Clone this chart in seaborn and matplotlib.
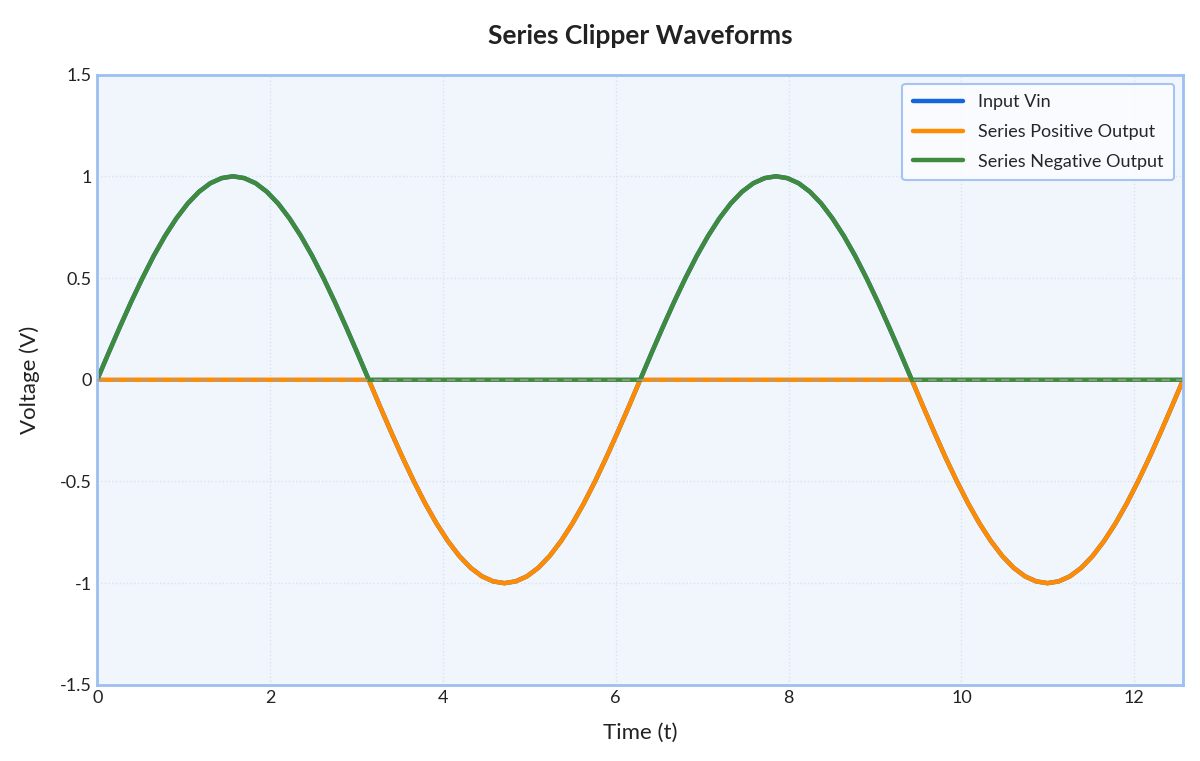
import seaborn as sns
import matplotlib.pyplot as plt
import numpy as np
import pandas as pd

# time axis (t), one sample every 7.5 degrees over two periods
time_t = [0.000, 0.131, 0.262, 0.393, 0.524, 0.654, 0.785, 0.916, 1.047, 1.178,
          1.309, 1.440, 1.571, 1.702, 1.833, 1.963, 2.094, 2.225, 2.356, 2.487,
          2.618, 2.749, 2.880, 3.011, 3.142, 3.272, 3.403, 3.534, 3.665, 3.796,
          3.927, 4.058, 4.189, 4.320, 4.451, 4.581, 4.712, 4.843, 4.974, 5.105,
          5.236, 5.367, 5.498, 5.629, 5.760, 5.890, 6.021, 6.152, 6.283,
          6.414, 6.545, 6.676, 6.807, 6.938, 7.069, 7.199, 7.330, 7.461, 7.592,
          7.723, 7.854, 7.985, 8.116, 8.247, 8.378, 8.508, 8.639, 8.770, 8.901,
          9.032, 9.163, 9.294, 9.425, 9.556, 9.687, 9.817, 9.948, 10.079, 10.210,
          10.341, 10.472, 10.603, 10.734, 10.865, 10.996, 11.126, 11.257, 11.388, 11.519,
          11.650, 11.781, 11.912, 12.043, 12.174, 12.305, 12.435, 12.566]

# half waves (amplitude 1 V)
half_up = [0, 0.131, 0.259, 0.383, 0.5, 0.609, 0.707, 0.793, 0.866, 0.924, 0.966, 0.991,
           1, 0.991, 0.966, 0.924, 0.866, 0.793, 0.707, 0.609, 0.5, 0.383, 0.259, 0.131]
half_down = [0, -0.131, -0.259, -0.383, -0.5, -0.609, -0.707, -0.793, -0.866, -0.924, -0.966, -0.991,
             -1, -0.991, -0.966, -0.924, -0.866, -0.793, -0.707, -0.609, -0.5, -0.383, -0.259, -0.131]
half_flat = [0] * 24

vin = half_up + half_down + half_up + half_down + [0]
pos_out = half_flat + half_down + half_flat + half_down + [0]
neg_out = half_up + half_flat + half_up + half_flat + [0]

series_names = ['Input Vin', 'Series Positive Output', 'Series Negative Output']
series_colors = ['#1565e0', '#ff8c00', '#408a3b']

y_ticks = [-1.5, -1, -0.5, 0, 0.5, 1, 1.5]
y_ticklabels = ['-1.5', '-1', '-0.5', '0', '0.5', '1', '1.5']
x_ticks = [0, 2, 4, 6, 8, 10, 12]

df = pd.concat([
    pd.DataFrame({'t': time_t, 'v': vin, 'series': series_names[0]}),
    pd.DataFrame({'t': time_t, 'v': pos_out, 'series': series_names[1]}),
    pd.DataFrame({'t': time_t, 'v': neg_out, 'series': series_names[2]}),
], ignore_index=True)

sns.set_style('white')
plt.rcParams['font.family'] = ['Lato', 'DejaVu Sans']

fig, ax = plt.subplots(figsize=(12, 7.61), dpi=100)
fig.subplots_adjust(left=0.081, right=0.986, top=0.902, bottom=0.1)
ax.set_facecolor('#f1f6fd')

sns.lineplot(data=df, x='t', y='v', hue='series', hue_order=series_names,
             palette=series_colors, linewidth=3.2, ax=ax, sort=False)

# zero reference line
ax.axhline(0, color='#a0a0a0', linestyle=(0, (4, 3)), linewidth=1.5, alpha=0.75, zorder=5)

ax.set_xlim(0, 12.566)
ax.set_ylim(-1.5, 1.5)
ax.set_xticks(x_ticks)
ax.set_yticks(y_ticks)
ax.set_yticklabels(y_ticklabels)
ax.tick_params(axis='both', length=0, labelsize=13, colors='#222222', pad=4)
ax.grid(True, linestyle=':', color='#d8e2f0', linewidth=1)

for sp in ax.spines.values():
    sp.set_color('#9dbff2')
    sp.set_linewidth(2)

ax.set_xlabel('Time (t)', fontsize=16, color='#222222', labelpad=12)
ax.set_ylabel('Voltage (V)', fontsize=16, color='#222222', labelpad=14)
ax.set_title('Series Clipper Waveforms', fontsize=19, fontweight='bold', pad=22, color='#222222')

leg = ax.legend(loc='upper right', fontsize=13, frameon=True, framealpha=0.9,
                edgecolor='#9dbff2', fancybox=True, handlelength=2.8, labelspacing=0.75,
                borderpad=0.6)
leg.get_frame().set_linewidth(1.5)
leg.get_frame().set_facecolor('#fafcff')

plt.savefig('out.png', dpi=100)
